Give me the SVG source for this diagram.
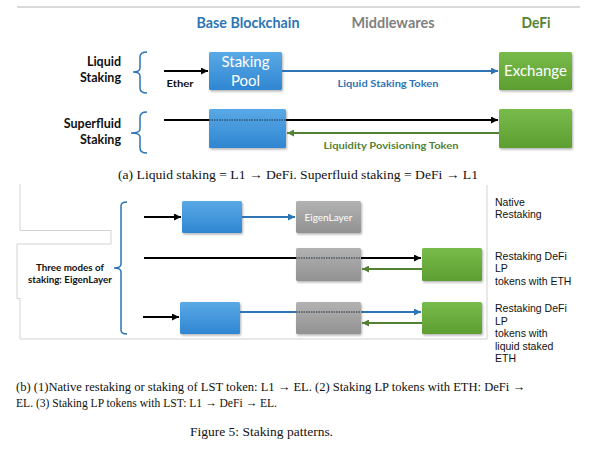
<svg xmlns="http://www.w3.org/2000/svg" width="595" height="450" viewBox="0 0 595 450">
<defs>
<linearGradient id="gBlue" x1="0" y1="0" x2="0" y2="1"><stop offset="0" stop-color="#5aa9e6"/><stop offset="1" stop-color="#2f86d1"/></linearGradient>
<linearGradient id="gGreen" x1="0" y1="0" x2="0" y2="1"><stop offset="0" stop-color="#79bb4b"/><stop offset="1" stop-color="#5d9e31"/></linearGradient>
<linearGradient id="gGrey" x1="0" y1="0" x2="0" y2="1"><stop offset="0" stop-color="#b2b2b2"/><stop offset="1" stop-color="#929292"/></linearGradient>
<filter id="sh" x="-10%" y="-10%" width="125%" height="135%"><feDropShadow dx="1" dy="1.5" stdDeviation="1" flood-color="#000" flood-opacity="0.3"/></filter>
<marker id="aBlack" viewBox="0 0 10 10" refX="10" refY="5" markerWidth="8" markerHeight="7" markerUnits="userSpaceOnUse" orient="auto"><path d="M0,0 L10,5 L0,10 Z" fill="#000"/></marker>
<marker id="aBlue" viewBox="0 0 10 10" refX="10" refY="5" markerWidth="8" markerHeight="7" markerUnits="userSpaceOnUse" orient="auto"><path d="M0,0 L10,5 L0,10 Z" fill="#2e75b6"/></marker>
<marker id="aGreen" viewBox="0 0 10 10" refX="10" refY="5" markerWidth="8" markerHeight="7" markerUnits="userSpaceOnUse" orient="auto"><path d="M0,0 L10,5 L0,10 Z" fill="#548235"/></marker>
</defs>
<style>
.hdr{font-family:Lato,"Open Sans","Liberation Sans",sans-serif;font-weight:bold;font-size:15px;text-anchor:middle}
.lbl{font-family:Lato,"Open Sans","Liberation Sans",sans-serif;font-weight:bold;font-size:12.5px;text-anchor:end;fill:#111}
.sm{font-family:Lato,"Open Sans","Liberation Sans",sans-serif;font-weight:bold;font-size:10px;text-anchor:middle}
.box{font-family:Lato,"Open Sans","Liberation Sans",sans-serif;font-size:15px;fill:#fff;text-anchor:middle}
.ar{font-family:"Liberation Sans",Arial,sans-serif;font-size:10.5px;fill:#111}
.cap{font-family:"Liberation Serif","Times New Roman",serif;font-size:13px;fill:#111}
.brace{fill:none;stroke:#2e75b6;stroke-width:1.5}
.frame{fill:none;stroke:#d2d2d2;stroke-width:1}
.bk{fill:none;stroke:#000;stroke-width:2}
.bl{fill:none;stroke:#2e75b6;stroke-width:2}
.gr{fill:none;stroke:#548235;stroke-width:2}
.dot{fill:none;stroke:#1a2a3a;stroke-width:1;stroke-dasharray:1.5 1}
</style>
<rect width="595" height="450" fill="#fff"/>
<line x1="17" y1="7" x2="580" y2="7" stroke="#b5b5b5" stroke-width="1"/>
<g id="headers">
<text class="hdr" x="248" y="28" fill="#2e75b6" textLength="103" lengthAdjust="spacingAndGlyphs">Base Blockchain</text>
<text class="hdr" x="393" y="28" fill="#7f7f7f" textLength="83" lengthAdjust="spacingAndGlyphs">Middlewares</text>
<text class="hdr" x="536" y="28" fill="#548235" textLength="29" lengthAdjust="spacingAndGlyphs">DeFi</text>
</g>
<g id="liquid-label">
<text class="lbl" x="121" y="66">Liquid</text>
<text class="lbl" x="121" y="82">Staking</text>
<path class="brace" d="M147,52 Q140,52 140,57 L140,68 Q140,72 133,72 Q140,72 140,76 L140,88 Q140,93 147,93"/>
</g>
<g id="superfluid-label">
<text class="lbl" x="121" y="128">Superfluid</text>
<text class="lbl" x="121" y="144">Staking</text>
<path class="brace" d="M147,112 Q140,112 140,117 L140,129 Q140,133 131,133 Q140,133 140,137 L140,148 Q140,153 147,153"/>
</g>
<g id="staking-pool"><rect x="209" y="52" width="73" height="38" rx="1.5" fill="url(#gBlue)" filter="url(#sh)"/>
<text class="box" x="245.5" y="67">Staking</text><text class="box" x="245.5" y="86">Pool</text></g>
<g id="exchange"><rect x="499" y="52" width="73" height="38" rx="1.5" fill="url(#gGreen)" filter="url(#sh)"/>
<text class="box" x="535.5" y="76">Exchange</text></g>
<g id="superfluid-l1"><rect x="209" y="109" width="77" height="39" rx="1.5" fill="url(#gBlue)" filter="url(#sh)"/></g>
<g id="superfluid-defi"><rect x="499" y="109" width="73" height="39" rx="1.5" fill="url(#gGreen)" filter="url(#sh)"/></g>
<text class="cap" x="118" y="179" textLength="360" lengthAdjust="spacingAndGlyphs">(a) Liquid staking = L1 → DeFi. Superfluid staking = DeFi → L1</text>
<path class="frame" d="M20,184 V230.5 H111 V244 H17 V298.5 H20 V339 H487 V185"/>
<g id="three-modes">
<text class="sm" x="70" y="271" fill="#111" textLength="68" lengthAdjust="spacingAndGlyphs">Three modes of</text>
<text class="sm" x="70" y="283" fill="#111" textLength="84" lengthAdjust="spacingAndGlyphs">staking: EigenLayer</text>
<path class="brace" d="M127,202 Q121,202 121,206 L121,264 Q121,268 114,268 Q121,268 121,272 L121,330 Q121,334 127,334"/>
</g>
<g id="b1-l1"><rect x="182" y="201" width="60" height="32" rx="1.5" fill="url(#gBlue)" filter="url(#sh)"/></g>
<g id="b1-eigenlayer"><rect x="296" y="201" width="65" height="32" rx="1.5" fill="url(#gGrey)" filter="url(#sh)"/>
<text x="328.5" y="221" font-family="Lato,'Open Sans','Liberation Sans',sans-serif" font-size="10" fill="#fff" text-anchor="middle">EigenLayer</text></g>
<g id="b2-eigenlayer"><rect x="296" y="248" width="65" height="33" rx="1.5" fill="url(#gGrey)" filter="url(#sh)"/></g>
<g id="b2-defi"><rect x="422" y="248" width="60" height="33" rx="1.5" fill="url(#gGreen)" filter="url(#sh)"/></g>
<g id="b3-l1"><rect x="180" y="302" width="60" height="32" rx="1.5" fill="url(#gBlue)" filter="url(#sh)"/></g>
<g id="b3-eigenlayer"><rect x="296" y="302" width="65" height="32" rx="1.5" fill="url(#gGrey)" filter="url(#sh)"/></g>
<g id="b3-defi"><rect x="422" y="302" width="60" height="32" rx="1.5" fill="url(#gGreen)" filter="url(#sh)"/></g>
<g id="connectors">
<path class="bk" d="M164,71 H208" marker-end="url(#aBlack)"/>
<text class="sm" x="180" y="87" fill="#111" textLength="27" lengthAdjust="spacingAndGlyphs">Ether</text>
<path class="bl" d="M282,71 H498" marker-end="url(#aBlue)"/>
<text class="sm" x="388" y="87" fill="#2e75b6" textLength="101" lengthAdjust="spacingAndGlyphs">Liquid Staking Token</text>
<path class="bk" d="M164,120 H209"/>
<path class="dot" d="M209,120 H286"/>
<path class="bk" d="M286,120 H498" marker-end="url(#aBlack)"/>
<path class="gr" d="M499,133 H287" marker-end="url(#aGreen)"/>
<text class="sm" x="391" y="149" fill="#548235" textLength="135" lengthAdjust="spacingAndGlyphs">Liquidity Povisioning Token</text>
<path class="bk" d="M144,217 H181" marker-end="url(#aBlack)"/>
<path class="bl" d="M242,217 H295" stroke-width="1.6" marker-end="url(#aBlue)"/>
<path class="bk" d="M144,258 H296"/>
<path class="dot" d="M296,258 H361"/>
<path class="bk" d="M361,258 H421" marker-end="url(#aBlack)"/>
<path class="gr" d="M422,269 H362" marker-end="url(#aGreen)"/>
<path class="bk" d="M143,317 H179" marker-end="url(#aBlack)"/>
<path class="bl" d="M240,312 H296" stroke-width="1.6"/>
<path class="dot" d="M296,312 H361" stroke="#3a4f66"/>
<path class="bl" d="M361,312 H421" stroke-width="1.6" marker-end="url(#aBlue)"/>
<path class="gr" d="M422,323 H362" marker-end="url(#aGreen)"/>
</g>
<g id="mode-labels">
<text class="ar" x="495" y="206">Native</text>
<text class="ar" x="495" y="218">Restaking</text>
<text class="ar" x="495" y="260">Restaking DeFi</text>
<text class="ar" x="495" y="272">LP</text>
<text class="ar" x="495" y="285">tokens with ETH</text>
<text class="ar" x="495" y="312">Restaking DeFi</text>
<text class="ar" x="495" y="325">LP</text>
<text class="ar" x="495" y="337">tokens with</text>
<text class="ar" x="495" y="350">liquid staked</text>
<text class="ar" x="495" y="362">ETH</text>
</g>
<g id="captions">
<text class="cap" x="16" y="391" textLength="509" lengthAdjust="spacingAndGlyphs">(b) (1)Native restaking or staking of LST token: L1 → EL. (2) Staking LP tokens with ETH: DeFi →</text>
<text class="cap" x="16" y="407" textLength="261" lengthAdjust="spacingAndGlyphs">EL. (3) Staking LP tokens with LST: L1 → DeFi → EL.</text>
<text class="cap" x="190" y="436" textLength="143" lengthAdjust="spacingAndGlyphs">Figure 5: Staking patterns.</text>
</g>
</svg>
